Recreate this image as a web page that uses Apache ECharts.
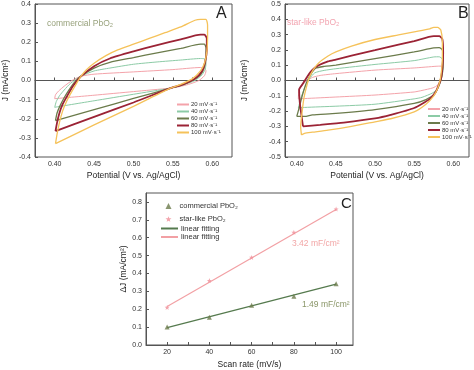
<!DOCTYPE html>
<html>
<head>
<meta charset="utf-8">
<script src="https://cdn.jsdelivr.net/npm/echarts@6/dist/echarts.min.js"></script>
<style>
  body { margin: 0; background: #fff; }
  #main { width: 474px; height: 370px; }
</style>
</head>
<body>
<div id="main"></div>
<script>
// scan rate names + colours shared by panels A and B
var rateNames = ['20 mV·s⁻¹', '40 mV·s⁻¹', '60 mV·s⁻¹', '80 mV·s⁻¹', '100 mV·s⁻¹'];
var cvColors = ['#f4a3aa', '#8ccba6', '#6b7b4b', '#9b2335', '#f5c25a'];
var cvWidths = [1, 1, 1.3, 1.8, 1.3];

// panel A, commercial PbO2 (V, mA/cm2)
var a20 = [[0.40,-0.095],[0.401,-0.075],[0.405,-0.055],[0.412,-0.03],[0.422,0.0],[0.433,0.022],[0.45,0.033],[0.50,0.045],[0.55,0.057],[0.585,0.068],[0.59,0.066],
  [0.592,0.05],[0.59,0.025],[0.583,0.0],[0.57,-0.02],[0.555,-0.035],[0.547,-0.04],[0.50,-0.058],[0.45,-0.077],[0.40,-0.095]];
var a40 = [[0.40,-0.14],[0.402,-0.11],[0.406,-0.08],[0.412,-0.05],[0.42,-0.015],[0.433,0.022],[0.45,0.05],[0.47,0.065],[0.50,0.085],[0.53,0.097],[0.56,0.107],[0.585,0.115],[0.59,0.113],
  [0.592,0.09],[0.591,0.06],[0.587,0.03],[0.578,0.0],[0.562,-0.025],[0.547,-0.04],[0.50,-0.072],[0.45,-0.106],[0.40,-0.14]];
var a60 = [[0.401,-0.21],[0.403,-0.17],[0.407,-0.13],[0.412,-0.09],[0.418,-0.05],[0.425,-0.01],[0.433,0.022],[0.45,0.065],[0.47,0.095],[0.50,0.12],[0.53,0.145],[0.56,0.168],[0.585,0.19],[0.59,0.19],
  [0.592,0.17],[0.592,0.12],[0.59,0.07],[0.585,0.03],[0.575,0.0],[0.56,-0.025],[0.547,-0.04],[0.50,-0.094],[0.45,-0.152],[0.401,-0.21]];
var a80 = [[0.401,-0.265],[0.403,-0.22],[0.406,-0.17],[0.41,-0.125],[0.416,-0.08],[0.423,-0.03],[0.433,0.02],[0.45,0.075],[0.47,0.115],[0.50,0.152],[0.53,0.185],[0.56,0.215],[0.585,0.24],[0.59,0.24],
  [0.593,0.22],[0.593,0.16],[0.591,0.1],[0.587,0.05],[0.578,0.01],[0.563,-0.02],[0.547,-0.04],[0.50,-0.115],[0.45,-0.19],[0.401,-0.265]];
var a100 = [[0.401,-0.33],[0.403,-0.28],[0.406,-0.22],[0.41,-0.16],[0.415,-0.11],[0.42,-0.07],[0.427,-0.02],[0.433,0.02],[0.44,0.055],[0.45,0.09],[0.465,0.13],[0.48,0.16],[0.50,0.19],[0.52,0.22],[0.54,0.25],[0.56,0.28],[0.578,0.315],[0.585,0.32],[0.592,0.32],
  [0.594,0.29],[0.594,0.22],[0.593,0.15],[0.59,0.09],[0.585,0.05],[0.575,0.01],[0.56,-0.02],[0.547,-0.04],[0.50,-0.135],[0.45,-0.232],[0.401,-0.33]];

// panel B, star-like PbO2
var b20 = [[0.402,-0.12],[0.403,-0.06],[0.407,-0.03],[0.413,0.0],[0.42,0.02],[0.43,0.033],[0.45,0.045],[0.50,0.068],[0.55,0.082],[0.578,0.093],[0.584,0.094],[0.586,0.08],
  [0.586,0.04],[0.584,0.0],[0.58,-0.03],[0.574,-0.048],[0.56,-0.065],[0.55,-0.075],[0.50,-0.095],[0.45,-0.108],[0.41,-0.118],[0.402,-0.12]];
var b40 = [[0.402,-0.18],[0.405,-0.12],[0.41,-0.05],[0.416,0.01],[0.423,0.05],[0.435,0.066],[0.45,0.077],[0.50,0.105],[0.55,0.13],[0.575,0.154],[0.582,0.155],[0.586,0.14],
  [0.587,0.08],[0.585,0.02],[0.583,-0.01],[0.58,-0.05],[0.574,-0.08],[0.56,-0.11],[0.55,-0.12],[0.50,-0.155],[0.45,-0.168],[0.41,-0.176],[0.402,-0.18]];
var b60 = [[0.40,-0.235],[0.403,-0.18],[0.407,-0.10],[0.412,-0.02],[0.418,0.04],[0.424,0.08],[0.435,0.092],[0.45,0.1],[0.50,0.143],[0.55,0.187],[0.575,0.213],[0.582,0.215],[0.586,0.2],
  [0.587,0.12],[0.586,0.05],[0.584,0.0],[0.581,-0.04],[0.576,-0.09],[0.565,-0.125],[0.55,-0.15],[0.50,-0.19],[0.45,-0.215],[0.42,-0.225],[0.41,-0.235],[0.40,-0.235]];
var b80 = [[0.408,-0.30],[0.404,-0.15],[0.403,-0.06],[0.408,-0.02],[0.414,0.03],[0.42,0.07],[0.428,0.1],[0.44,0.125],[0.45,0.137],[0.47,0.162],[0.50,0.198],[0.53,0.235],[0.55,0.258],[0.575,0.29],[0.582,0.29],[0.586,0.27],
  [0.587,0.18],[0.586,0.08],[0.584,0.01],[0.582,-0.02],[0.578,-0.07],[0.57,-0.12],[0.55,-0.18],[0.52,-0.225],[0.50,-0.248],[0.46,-0.275],[0.43,-0.29],[0.408,-0.30]];
var b100 = [[0.406,-0.355],[0.405,-0.30],[0.407,-0.20],[0.409,-0.12],[0.412,-0.05],[0.416,0.02],[0.421,0.07],[0.428,0.115],[0.44,0.16],[0.45,0.187],[0.47,0.225],[0.50,0.268],[0.53,0.298],[0.55,0.318],[0.57,0.338],[0.575,0.347],[0.58,0.347],[0.584,0.33],
  [0.586,0.25],[0.586,0.15],[0.585,0.07],[0.583,0.0],[0.58,-0.05],[0.575,-0.10],[0.565,-0.155],[0.55,-0.205],[0.52,-0.25],[0.50,-0.27],[0.47,-0.3],[0.44,-0.325],[0.42,-0.338],[0.41,-0.345],[0.406,-0.355]];

// panel C
var scanRates = [20, 40, 60, 80, 100];
var commercialDJ = [0.10, 0.155, 0.222, 0.272, 0.342];
var starDJ = [0.21, 0.36, 0.49, 0.63, 0.76];
var fitRates = [20, 100];
var commercialFit = [0.097, 0.34];
var starFit = [0.215, 0.758];

// tick labels / tick positions
var potLabels = [0.40, 0.45, 0.50, 0.55, 0.60];
var potTicksA = [0.375, 0.40, 0.425, 0.45, 0.475, 0.50, 0.525, 0.55, 0.575, 0.60];
var potTicksB = [0.40, 0.425, 0.45, 0.475, 0.50, 0.525, 0.55, 0.575, 0.60];
var jLabelsA = [-0.4, -0.3, -0.2, -0.1, 0.0, 0.1, 0.2, 0.3, 0.4];
var jLabelsB = [-0.5, -0.4, -0.3, -0.2, -0.1, 0.0, 0.1, 0.2, 0.3, 0.4, 0.5];
var rateLabels = [20, 40, 60, 80, 100];
var rateTicks = [20, 30, 40, 50, 60, 70, 80, 90, 100];
var djLabels = [0.0, 0.1, 0.2, 0.3, 0.4, 0.5, 0.6, 0.7, 0.8];

var font = 'Liberation Sans, Arial, sans-serif';
var axisCol = '#555';

function pairs(xs, ys) {
    return xs.map(function (x, i) { return [x, ys[i]]; });
}

function xAx(idx, min, max, labels, ticks, dec, title, gap) {
    return {
        type: 'value', gridIndex: idx, min: min, max: max,
        name: title, nameLocation: 'middle', nameGap: gap,
        nameTextStyle: {fontFamily: font, fontSize: 8.5, color: '#222'},
        axisLine: {lineStyle: {color: axisCol}},
        axisTick: {inside: true, length: 3, customValues: ticks, lineStyle: {color: axisCol}},
        axisLabel: {customValues: labels, fontFamily: font, fontSize: 7, color: '#333', margin: 4,
            formatter: function (v) { return v.toFixed(dec); }},
        splitLine: {show: false}
    };
}

function yAx(idx, min, max, labels, dec, title, gap) {
    return {
        type: 'value', gridIndex: idx, min: min, max: max,
        name: title, nameLocation: 'middle', nameGap: gap,
        nameTextStyle: {fontFamily: font, fontSize: 8.5, color: '#222'},
        axisLine: {show: true, lineStyle: {color: axisCol}},
        axisTick: {show: true, inside: true, length: 3, customValues: labels, lineStyle: {color: axisCol}},
        axisLabel: {customValues: labels, fontFamily: font, fontSize: 7, color: '#333', margin: 4,
            formatter: function (v) { return v.toFixed(dec); }},
        splitLine: {show: false}
    };
}

var aData = [a20, a40, a60, a80, a100];
var bData = [b20, b40, b60, b80, b100];
var series = [];
[aData, bData].forEach(function (set, p) {
    set.forEach(function (d, i) {
        series.push({
            type: 'line', name: rateNames[i], xAxisIndex: p, yAxisIndex: p,
            data: d, symbol: 'none', smooth: 0.2,
            lineStyle: {color: cvColors[i], width: cvWidths[i]},
            itemStyle: {color: cvColors[i]}
        });
    });
});

var starPath = 'path://M0,-10L2.5,-3.5L9.5,-3.1L4,1.3L5.9,8.1L0,4.2L-5.9,8.1L-4,1.3L-9.5,-3.1L-2.5,-3.5Z';

series.push({
    type: 'line', name: 'linear fitting', xAxisIndex: 2, yAxisIndex: 2,
    data: pairs(fitRates, commercialFit), symbol: 'none',
    lineStyle: {color: '#557a4e', width: 1.2}, itemStyle: {color: '#557a4e'}
});
series.push({
    type: 'line', name: 'linear fitting ', xAxisIndex: 2, yAxisIndex: 2,
    data: pairs(fitRates, starFit), symbol: 'none',
    lineStyle: {color: '#f2a0a4', width: 1.2}, itemStyle: {color: '#f2a0a4'}
});
series.push({
    type: 'scatter', name: 'commercial PbO₂', xAxisIndex: 2, yAxisIndex: 2,
    data: pairs(scanRates, commercialDJ), symbol: 'triangle', symbolSize: 5,
    itemStyle: {color: '#6b7b4b'}, z: 5
});
series.push({
    type: 'scatter', name: 'star-like PbO₂', xAxisIndex: 2, yAxisIndex: 2,
    data: pairs(scanRates, starDJ), symbol: starPath, symbolSize: 5,
    itemStyle: {color: '#f08e98'}, z: 5
});

var legendText = {fontFamily: font, fontSize: 6, color: '#333', lineHeight: 7, padding: [0, 0, 0, -3]};
var hideSymbol = {opacity: 0};

var option = {
    animation: false,
    backgroundColor: '#fff',
    grid: [
        {left: 35, top: 4, width: 197, height: 153, show: true, borderColor: axisCol, borderWidth: 1},
        {left: 285, top: 4, width: 184, height: 153, show: true, borderColor: axisCol, borderWidth: 1},
        {left: 146, top: 193, width: 207, height: 154, show: true, borderColor: axisCol, borderWidth: 1}
    ],
    xAxis: [
        xAx(0, 0.375, 0.625, potLabels, potTicksA, 2, 'Potential (V vs. Ag/AgCl)', 14),
        xAx(1, 0.385, 0.62, potLabels, potTicksB, 2, 'Potential (V vs. Ag/AgCl)', 14),
        xAx(2, 10, 108, rateLabels, rateTicks, 0, 'Scan rate (mV/s)', 15)
    ],
    yAxis: [
        yAx(0, -0.4, 0.4, jLabelsA, 1, 'J (mA/cm²)', 25),
        yAx(1, -0.5, 0.5, jLabelsB, 1, 'J (mA/cm²)', 36),
        yAx(2, 0, 0.85, djLabels, 1, 'ΔJ (mA/cm²)', 16)
    ],
    legend: [
        {data: rateNames, orient: 'vertical', left: 176, top: 101, padding: 0,
            itemWidth: 12, itemHeight: 6.4, itemGap: 0, itemStyle: hideSymbol,
            textStyle: legendText, selectedMode: false},
        {data: rateNames, orient: 'vertical', left: 427, top: 105.5, padding: 0,
            itemWidth: 12, itemHeight: 7.2, itemGap: 0, itemStyle: hideSymbol,
            textStyle: legendText, selectedMode: false},
        {data: ['commercial PbO₂', 'star-like PbO₂'], orient: 'vertical', left: 165.5, top: 201.5, padding: 0,
            itemWidth: 6, itemHeight: 6, itemGap: 4,
            textStyle: {fontFamily: font, fontSize: 7.5, color: '#333', lineHeight: 9, padding: [0, 0, 0, 3]},
            selectedMode: false},
        {data: ['linear fitting', 'linear fitting '], orient: 'vertical', left: 160, top: 224.5, padding: 0,
            itemWidth: 17, itemHeight: 8, itemGap: 0.5, itemStyle: hideSymbol,
            formatter: function (n) { return n.trim(); },
            textStyle: {fontFamily: font, fontSize: 7.5, color: '#333', padding: [0, 0, 0, -2]},
            selectedMode: false}
    ],
    graphic: [
        {type: 'text', left: 216, top: 6, style: {text: 'A', font: '16px ' + font, fill: '#222'}},
        {type: 'text', left: 458, top: 6, style: {text: 'B', font: '16px ' + font, fill: '#222'}},
        {type: 'text', left: 341, top: 196, style: {text: 'C', font: '15px ' + font, fill: '#222'}},
        {type: 'text', left: 47, top: 19, style: {text: 'commercial PbO₂', font: '8.5px ' + font, fill: '#98a27c'}},
        {type: 'text', left: 287, top: 18, style: {text: 'star-like PbO₂', font: '8.5px ' + font, fill: '#f2a4b0'}},
        {type: 'text', left: 292, top: 239, style: {text: '3.42 mF/cm²', font: '8.5px ' + font, fill: '#f2a6a6'}},
        {type: 'text', left: 302, top: 300, style: {text: '1.49 mF/cm²', font: '8.5px ' + font, fill: '#8a9668'}}
    ],
    series: series
};

var myChart = echarts.init(document.getElementById('main'));
myChart.setOption(option);
</script>
</body>
</html>
